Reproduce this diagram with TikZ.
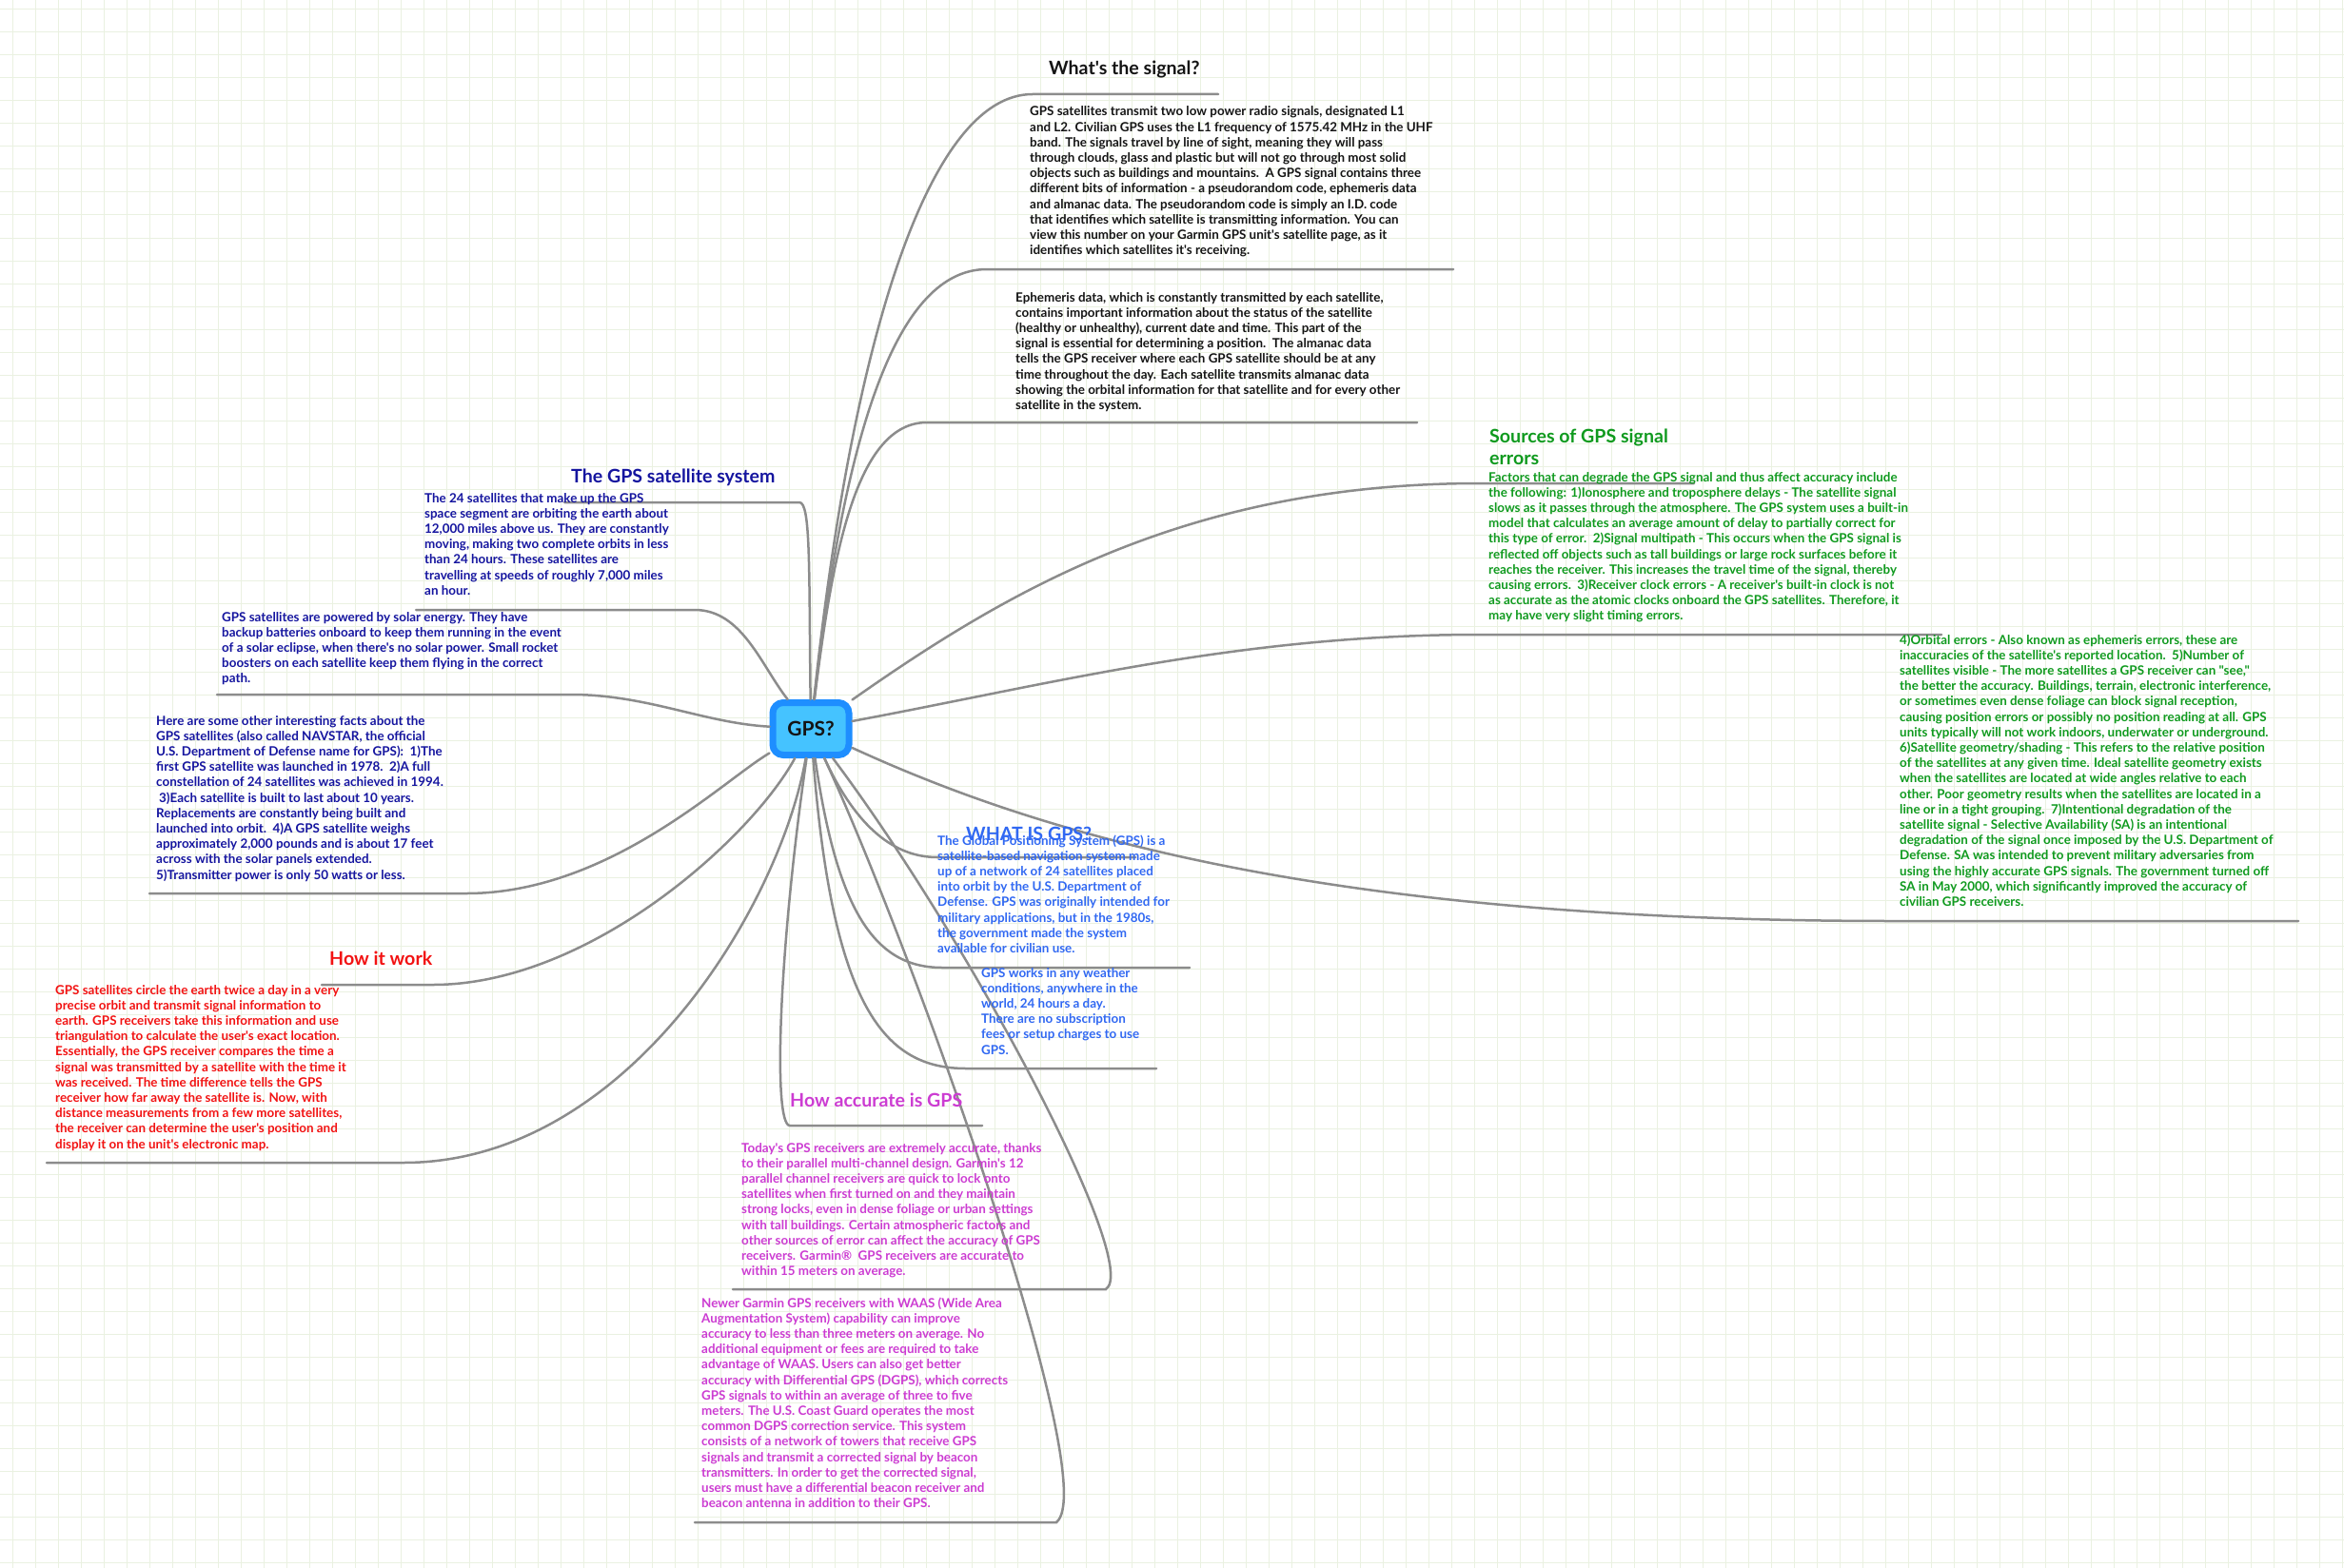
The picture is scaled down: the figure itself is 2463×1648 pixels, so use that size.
\documentclass[tikz,border=0pt]{standalone}
\usepackage{fontspec}
\setmainfont{Lato}[Ligatures=TeXOff]
\definecolor{gridc}{HTML}{EAF1E1}
\definecolor{linec}{HTML}{8C8C8C}
\definecolor{cblack}{HTML}{141414}
\definecolor{cgreen}{HTML}{0F9A1E}
\definecolor{cnavy}{HTML}{15159F}
\definecolor{cred}{HTML}{F21212}
\definecolor{cblue}{HTML}{3068F2}
\definecolor{cmag}{HTML}{CC3CD2}
\definecolor{nodeborder}{HTML}{1E8EFF}
\definecolor{nodefill}{HTML}{45C3FF}
\newcommand\mylines[1]{{\def\\{\cr}\vtop{\halign{##\hfil\cr#1\crcr}}}}
\tikzset{
  conn/.style={draw=linec, line width=2.5pt, line cap=round},
  para/.style={anchor=base west, inner sep=0pt, font=\fontsize{13.4}{16.2}\selectfont\bfseries},
  ttl/.style={anchor=base west, inner sep=0pt, font=\fontsize{19.6}{23}\selectfont\bfseries},
}
\begin{document}
\begin{tikzpicture}[x=1pt,y=-1pt]
\useasboundingbox (0,0) rectangle (2463,1648);
\fill[white] (0,0) rectangle (2463,1648);
\foreach \gx in {13,37,...,2463} \draw[gridc, line width=1pt] (\gx,0) -- (\gx,1648);
\foreach \gy in {10,34,...,1648} \draw[gridc, line width=1pt] (0,\gy) -- (2463,\gy);

\node[draw=nodeborder, fill=nodefill, line width=7pt, rounded corners=11pt,
      minimum width=80pt, minimum height=55pt, inner sep=0pt,
      font=\fontsize{21}{24}\selectfont\bfseries, text=cblack] (gps) at (852,766) {GPS?};

% coordinates of branch ends
\coordinate (a1) at (1085,99);  \coordinate (a2) at (1280,99);
\coordinate (b1) at (1037,283); \coordinate (b2) at (1527,283);
\coordinate (c1) at (974,444);  \coordinate (c2) at (1489,444);
\coordinate (d1) at (840,528);  \coordinate (d2) at (593,528);
\coordinate (e1) at (1555,508); \coordinate (e2) at (1780,508);
\coordinate (f1) at (1555,667); \coordinate (f2) at (2040,667);
\coordinate (g1) at (1990,968); \coordinate (g2) at (2415,968);
\coordinate (h1) at (985,901);  \coordinate (h2) at (1193,901);
\coordinate (i1) at (990,1017); \coordinate (i2) at (1250,1017);
\coordinate (j1) at (1015,1123);\coordinate (j2) at (1215,1123);
\coordinate (k1) at (830,1183); \coordinate (k2) at (1032,1183);
\coordinate (l1) at (1162,1355);\coordinate (l2) at (770,1355);
\coordinate (m1) at (1110,1600);\coordinate (m2) at (730,1600);
\coordinate (n1) at (730,641);  \coordinate (n2) at (437,641);
\coordinate (o1) at (600,730);  \coordinate (o2) at (228,730);
\coordinate (p1) at (490,939);  \coordinate (p2) at (157,939);
\coordinate (q1) at (455,1035); \coordinate (q2) at (338,1035);
\coordinate (r1) at (424,1222); \coordinate (r2) at (49,1222);

\draw[conn] (gps) .. controls (895,360) and (975,99) .. (a1) -- (a2);
\draw[conn] (gps) .. controls (885,480) and (935,283) .. (b1) -- (b2);
\draw[conn] (gps) .. controls (875,580) and (900,444) .. (c1) -- (c2);
\draw[conn] (gps) .. controls (850,600) and (852,528) .. (d1) -- (d2);
\draw[conn] (gps) .. controls (1060,620) and (1250,508) .. (e1) -- (e2);
\draw[conn] (gps) .. controls (1100,720) and (1300,667) .. (f1) -- (f2);
\draw[conn] (gps) .. controls (1100,880) and (1400,968) .. (g1) -- (g2);
\draw[conn] (gps) .. controls (900,870) and (940,901) .. (h1) -- (h2);
\draw[conn] (gps) .. controls (880,960) and (920,1017) .. (i1) -- (i2);
\draw[conn] (gps) .. controls (875,1060) and (930,1123) .. (j1) -- (j2);
\draw[conn] (gps) .. controls (818,1000) and (812,1183) .. (k1) -- (k2);
\draw[conn] (gps) .. controls (1020,990) and (1200,1330) .. (l1) -- (l2);
\draw[conn] (gps) .. controls (960,1000) and (1160,1560) .. (m1) -- (m2);
\draw[conn] (gps) .. controls (800,700) and (780,641) .. (n1) -- (n2);
\draw[conn] (gps) .. controls (740,760) and (680,730) .. (o1) -- (o2);
\draw[conn] (gps) .. controls (760,820) and (640,939) .. (p1) -- (p2);
\draw[conn] (gps) .. controls (790,880) and (620,1035) .. (q1) -- (q2);
\draw[conn] (gps) .. controls (820,950) and (660,1222) .. (r1) -- (r2);

% texts
\node[ttl, text=cblack] (t1) at (1102,79) {What's the signal?};
\node[para, text=cblack] (t2) at (1082,122) {\mylines{GPS satellites transmit two low power radio signals, designated L1\\
and L2. Civilian GPS uses the L1 frequency of 1575.42 MHz in the UHF\\
band. The signals travel by line of sight, meaning they will pass\\
through clouds, glass and plastic but will not go through most solid\\
objects such as buildings and mountains.\ \ A GPS signal contains three\\
different bits of information - a pseudorandom code, ephemeris data\\
and almanac data. The pseudorandom code is simply an I.D. code\\
that identifies which satellite is transmitting information. You can\\
view this number on your Garmin GPS unit's satellite page, as it\\
identifies which satellites it's receiving.}};
\node[para, text=cblack] (t3) at (1067,317) {\mylines{Ephemeris data, which is constantly transmitted by each satellite,\\
contains important information about the status of the satellite\\
(healthy or unhealthy), current date and time. This part of the\\
signal is essential for determining a position.\ \ The almanac data\\
tells the GPS receiver where each GPS satellite should be at any\\
time throughout the day. Each satellite transmits almanac data\\
showing the orbital information for that satellite and for every other\\
satellite in the system.}};
\node[ttl, text=cgreen] (t4) at (1565,465) {\mylines{Sources of GPS signal\\errors}};
\node[para, text=cgreen] (t5) at (1564,506) {\mylines{Factors that can degrade the GPS signal and thus affect accuracy include\\
the following: 1)Ionosphere and troposphere delays - The satellite signal\\
slows as it passes through the atmosphere. The GPS system uses a built-in\\
model that calculates an average amount of delay to partially correct for\\
this type of error.\ \ 2)Signal multipath - This occurs when the GPS signal is\\
reflected off objects such as tall buildings or large rock surfaces before it\\
reaches the receiver. This increases the travel time of the signal, thereby\\
causing errors.\ \ 3)Receiver clock errors - A receiver's built-in clock is not\\
as accurate as the atomic clocks onboard the GPS satellites. Therefore, it\\
may have very slight timing errors.}};
\node[para, text=cgreen] (t6) at (1996,677) {\mylines{4)Orbital errors - Also known as ephemeris errors, these are\\
inaccuracies of the satellite's reported location.\ \ 5)Number of\\
satellites visible - The more satellites a GPS receiver can "see,"\\
the better the accuracy. Buildings, terrain, electronic interference,\\
or sometimes even dense foliage can block signal reception,\\
causing position errors or possibly no position reading at all. GPS\\
units typically will not work indoors, underwater or underground.\\
6)Satellite geometry/shading - This refers to the relative position\\
of the satellites at any given time. Ideal satellite geometry exists\\
when the satellites are located at wide angles relative to each\\
other. Poor geometry results when the satellites are located in a\\
line or in a tight grouping.\ \ 7)Intentional degradation of the\\
satellite signal - Selective Availability (SA) is an intentional\\
degradation of the signal once imposed by the U.S. Department of\\
Defense. SA was intended to prevent military adversaries from\\
using the highly accurate GPS signals. The government turned off\\
SA in May 2000, which significantly improved the accuracy of\\
civilian GPS receivers.}};
\node[ttl, text=cnavy] (t7) at (600,507) {The GPS satellite system};
\node[para, text=cnavy] (t8) at (446,528) {\mylines{The 24 satellites that make up the GPS\\
space segment are orbiting the earth about\\
12,000 miles above us. They are constantly\\
moving, making two complete orbits in less\\
than 24 hours. These satellites are\\
travelling at speeds of roughly 7,000 miles\\
an hour.}};
\node[para, text=cnavy] (t9) at (233,653) {\mylines{GPS satellites are powered by solar energy. They have\\
backup batteries onboard to keep them running in the event\\
of a solar eclipse, when there's no solar power. Small rocket\\
boosters on each satellite keep them flying in the correct\\
path.}};
\node[para, text=cnavy] (t10) at (164,762) {\mylines{Here are some other interesting facts about the\\
GPS satellites (also called NAVSTAR, the official\\
U.S. Department of Defense name for GPS):\ \ 1)The\\
first GPS satellite was launched in 1978.\ \ 2)A full\\
constellation of 24 satellites was achieved in 1994.\\
\kern3pt 3)Each satellite is built to last about 10 years.\\
Replacements are constantly being built and\\
launched into orbit.\ \ 4)A GPS satellite weighs\\
approximately 2,000 pounds and is about 17 feet\\
across with the solar panels extended.\\
5)Transmitter power is only 50 watts or less.}};
\node[ttl, text=cred] (t11) at (346,1014) {How it work};
\node[para, text=cred] (t12) at (58,1045) {\mylines{GPS satellites circle the earth twice a day in a very\\
precise orbit and transmit signal information to\\
earth. GPS receivers take this information and use\\
triangulation to calculate the user's exact location.\\
Essentially, the GPS receiver compares the time a\\
signal was transmitted by a satellite with the time it\\
was received. The time difference tells the GPS\\
receiver how far away the satellite is. Now, with\\
distance measurements from a few more satellites,\\
the receiver can determine the user's position and\\
display it on the unit's electronic map.}};
\node[ttl, text=cblue] (t13) at (1015,883) {WHAT IS GPS?};
\node[para, text=cblue] (t14) at (985,888) {\mylines{The Global Positioning System (GPS) is a\\
satellite-based navigation system made\\
up of a network of 24 satellites placed\\
into orbit by the U.S. Department of\\
Defense. GPS was originally intended for\\
military applications, but in the 1980s,\\
the government made the system\\
available for civilian use.}};
\node[para, text=cblue] (t15) at (1031,1027) {\mylines{GPS works in any weather\\
conditions, anywhere in the\\
world, 24 hours a day.\\
There are no subscription\\
fees or setup charges to use\\
GPS.}};
\node[ttl, text=cmag] (t16) at (830,1163) {How accurate is GPS};
\node[para, text=cmag] (t17) at (779,1211) {\mylines{Today's GPS receivers are extremely accurate, thanks\\
to their parallel multi-channel design. Garmin's 12\\
parallel channel receivers are quick to lock onto\\
satellites when first turned on and they maintain\\
strong locks, even in dense foliage or urban settings\\
with tall buildings. Certain atmospheric factors and\\
other sources of error can affect the accuracy of GPS\\
receivers. Garmin®\ \ GPS receivers are accurate to\\
within 15 meters on average.}};
\node[para, text=cmag] (t18) at (737,1374) {\mylines{Newer Garmin GPS receivers with WAAS (Wide Area\\
Augmentation System) capability can improve\\
accuracy to less than three meters on average. No\\
additional equipment or fees are required to take\\
advantage of WAAS. Users can also get better\\
accuracy with Differential GPS (DGPS), which corrects\\
GPS signals to within an average of three to five\\
meters. The U.S. Coast Guard operates the most\\
common DGPS correction service. This system\\
consists of a network of towers that receive GPS\\
signals and transmit a corrected signal by beacon\\
transmitters. In order to get the corrected signal,\\
users must have a differential beacon receiver and\\
beacon antenna in addition to their GPS.}};
\end{tikzpicture}
\end{document}
